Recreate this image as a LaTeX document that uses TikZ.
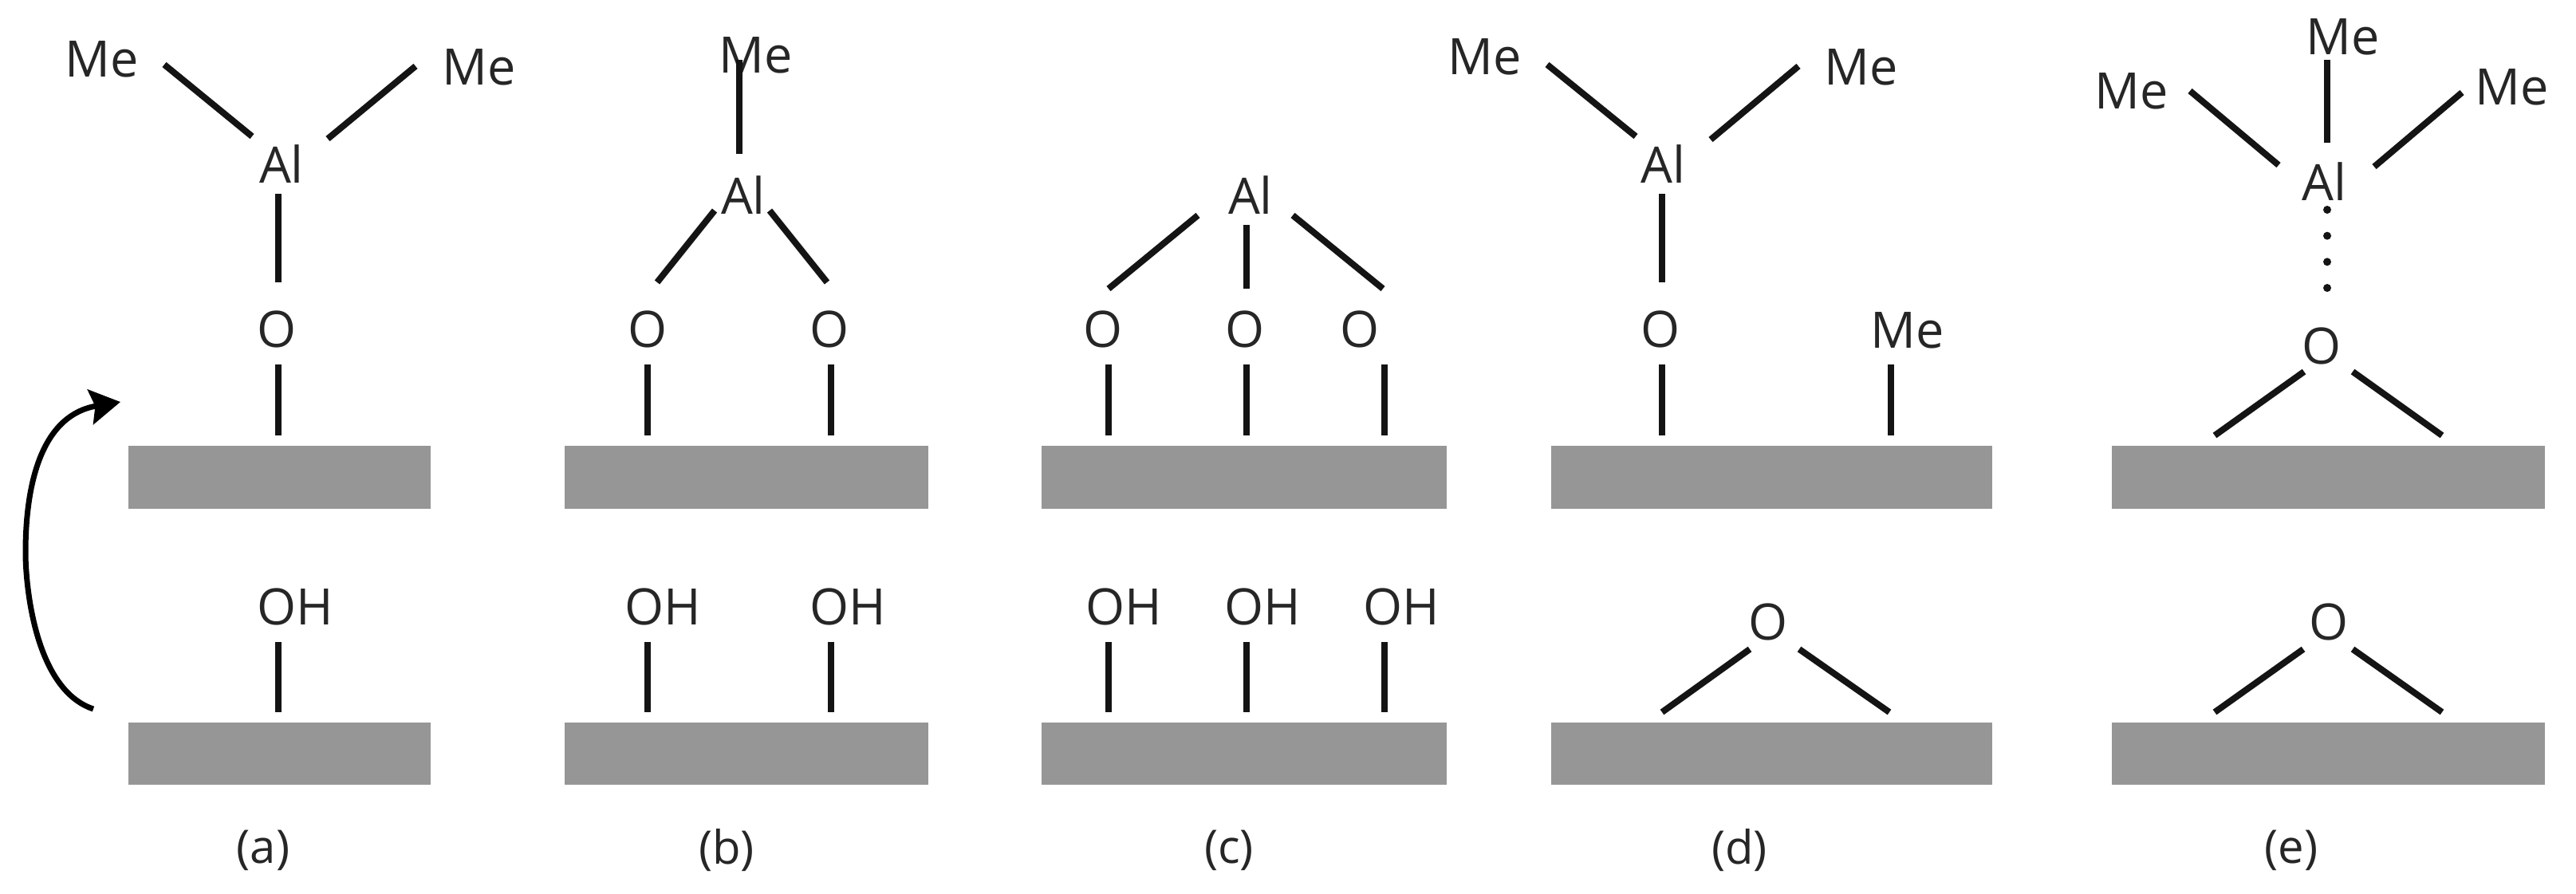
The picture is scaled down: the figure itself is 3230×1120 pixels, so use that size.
\documentclass[tikz,border=0pt]{standalone}
\usepackage{fontspec}
\setmainfont{Open Sans}
\usetikzlibrary{arrows.meta}
\definecolor{barcol}{HTML}{969696}
\definecolor{inkcol}{HTML}{141414}
\definecolor{txtcol}{HTML}{262626}
\tikzset{
  slab/.style={fill=barcol,draw=none},
  atom/.style={inner sep=0pt,outer sep=0pt,text=txtcol,text height=45pt,text depth=0pt,font=\fontsize{63}{63}\selectfont},
  caption/.style={inner sep=0pt,outer sep=0pt,text=txtcol,font=\fontsize{58}{58}\selectfont},
  bondline/.style={draw=inkcol,line width=8pt},
  dotbond/.style={draw=inkcol,line width=10pt,line cap=round,dash pattern=on 0pt off 32.67pt},
  curved/.style={draw=black,line width=7pt,-{Stealth[length=38pt,width=44pt,inset=6pt]}}
}
% \bnd{name}{x1,y1}{x2,y2}: a bond between two named end points
\newcommand{\bnd}[3]{\coordinate (#1-a) at (#2);\coordinate (#1-b) at (#3);\draw[bondline] (#1-a) -- (#1-b);}
% \slabs{name}{x1}{x2}: upper and lower surface slabs
\newcommand{\slabs}[3]{\fill[slab] (#2,559) rectangle (#3,638);\fill[slab] (#2,906) rectangle (#3,984);
  \coordinate (#1-u) at (#2,559);\coordinate (#1-l) at (#2,906);}
\begin{document}
\begin{tikzpicture}[x=1pt,y=-1pt]
\useasboundingbox (0,0) rectangle (3230,1120);
\fill[white] (0,0) rectangle (3230,1120);

\slabs{a}{161}{540}
\slabs{b}{708}{1164}
\slabs{c}{1306}{1814}
\slabs{d}{1945}{2498}
\slabs{e}{2648}{3191}

% (a)
\node[atom] (aMe1) at (128,74) {Me};
\node[atom] (aMe2) at (601,84) {Me};
\node[atom] (aAl) at (353,207) {Al};
\node[atom] (aO) at (347,413) {O};
\node[atom] (aOH) at (370,761) {OH};
\node[caption] (aL) at (330,1066) {(a)};
\bnd{a1}{206,81}{316,171}
\bnd{a2}{521,83}{411,174}
\bnd{a3}{349,243}{349,354}
\bnd{a4}{349,457}{349,546}
\bnd{a5}{349,805}{349,893}
\coordinate (arS) at (117,889);
\coordinate (arM) at (32,693);
\coordinate (arE) at (151,504);
\draw[curved] (arS) .. controls (42,864) and (32,729) .. (arM) .. controls (32,600) and (55,520) .. (arE);

% (b)
\node[atom] (bMe) at (948,69) {Me};
\node[atom] (bAl) at (932,246) {Al};
\node[atom] (bO1) at (812,413) {O};
\node[atom] (bO2) at (1040,413) {O};
\node[atom] (bOH1) at (831,761) {OH};
\node[atom] (bOH2) at (1063,761) {OH};
\node[caption] (bL) at (911,1066) {(b)};
\bnd{b1}{927,75}{927,193}
\bnd{b2}{896,264}{824,354}
\bnd{b3}{965,264}{1037,354}
\bnd{b4}{812,457}{812,546}
\bnd{b5}{1042,457}{1042,546}
\bnd{b6}{812,805}{812,893}
\bnd{b7}{1042,805}{1042,893}

% (c)
\node[atom] (cAl) at (1568,246) {Al};
\node[atom] (cO1) at (1383,413) {O};
\node[atom] (cO2) at (1561,413) {O};
\node[atom] (cO3) at (1705,413) {O};
\node[atom] (cOH1) at (1409,761) {OH};
\node[atom] (cOH2) at (1583,761) {OH};
\node[atom] (cOH3) at (1757,761) {OH};
\node[caption] (cL) at (1541,1066) {(c)};
\bnd{c1}{1502,270}{1390,362}
\bnd{c2}{1563,282}{1563,362}
\bnd{c3}{1621,270}{1734,362}
\bnd{c4}{1390,457}{1390,546}
\bnd{c5}{1563,457}{1563,546}
\bnd{c6}{1736,457}{1736,546}
\bnd{c7}{1390,805}{1390,893}
\bnd{c8}{1563,805}{1563,893}
\bnd{c9}{1736,805}{1736,893}

% (d)
\node[atom] (dMe1) at (1862,71) {Me};
\node[atom] (dMe2) at (2334,84) {Me};
\node[atom] (dAl) at (2085,207) {Al};
\node[atom] (dO1) at (2082,413) {O};
\node[atom] (dMe3) at (2392,414) {Me};
\node[atom] (dO2) at (2217,780) {O};
\node[caption] (dL) at (2181,1066) {(d)};
\bnd{d1}{1940,81}{2051,171}
\bnd{d2}{2255,83}{2145,175}
\bnd{d3}{2084,243}{2084,354}
\bnd{d4}{2084,457}{2084,546}
\bnd{d5}{2371,457}{2371,546}
\bnd{d6}{2194,814}{2084,893}
\bnd{d7}{2256,814}{2369,893}

% (e)
\node[atom] (eMe1) at (2938,46) {Me};
\node[atom] (eMe2) at (2673,114) {Me};
\node[atom] (eMe3) at (3150,109) {Me};
\node[atom] (eAl) at (2914,229) {Al};
\node[atom] (eO1) at (2911,434) {O};
\node[atom] (eO2) at (2920,780) {O};
\node[caption] (eL) at (2873,1066) {(e)};
\bnd{e1}{2918,75}{2918,179}
\bnd{e2}{2746,114}{2857,207}
\bnd{e3}{3087,116}{2977,209}
\coordinate (eDa) at (2918,263);
\coordinate (eDb) at (2918,362);
\draw[dotbond] (eDa) -- (eDb);
\bnd{e4}{2889,466}{2777,546}
\bnd{e5}{2950,466}{3062,546}
\bnd{e6}{2888,814}{2777,893}
\bnd{e7}{2950,814}{3062,893}
\end{tikzpicture}
\end{document}
